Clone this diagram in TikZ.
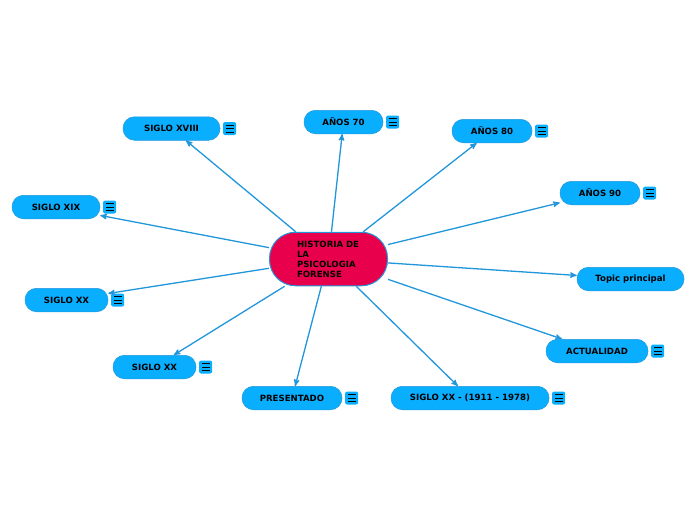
\documentclass[tikz,border=0pt]{standalone}
\usepackage{fontspec}
\setmainfont{DejaVu Sans}
\usetikzlibrary{arrows,positioning}
\definecolor{topicblue}{RGB}{10,174,255}
\definecolor{topicline}{RGB}{33,150,219}
\definecolor{rootred}{RGB}{232,0,76}

\begin{document}
\begin{tikzpicture}[x=1pt,y=-1pt,->,>=stealth',line width=1.3pt,draw=topicline]
  \tikzstyle{every node}=[font=\bfseries\fontsize{8.6}{10}\selectfont,text=black]
  \tikzstyle{topic}=[fill=topicblue,draw=topicline,line width=0.5pt,rounded corners=11.5pt,inner sep=0pt,minimum height=23.5pt]
  \tikzstyle{root}=[fill=rootred,draw=topicline,line width=1pt,rounded corners=26pt,inner sep=0pt,
                    minimum width=118pt,minimum height=53.5pt,align=left,text width=63pt]
  \tikzstyle{note}=[fill=topicblue,draw=none,rounded corners=2pt,minimum size=13pt,inner sep=0pt,right=2.2pt,
    path picture={\foreach \ty in {-3.3,0,3.3} \draw[-,black,line width=0.6pt]
      ([xshift=-4pt,yshift=\ty pt]path picture bounding box.center) -- ([xshift=4pt,yshift=\ty pt]path picture bounding box.center);}]

  \useasboundingbox (0,0) rectangle (696,520);

  \node[root]  (H)     at (328.5,259)  {HISTORIA DE\\LA\\PSICOLOGIA\\FORENSE};

  \node[topic,minimum width=97pt]  (XVIII) at (171.5,128.5) {SIGLO XVIII};
  \node[topic,minimum width=79pt]  (A70)   at (343.5,122)   {AÑOS 70};
  \node[topic,minimum width=80pt]  (A80)   at (492,131)     {AÑOS 80};
  \node[topic,minimum width=80pt]  (A90)   at (600,193)     {AÑOS 90};
  \node[topic,minimum width=107pt] (TP)    at (630.5,279)   {Topic principal};
  \node[topic,minimum width=102pt] (ACT)   at (597,351)     {ACTUALIDAD};
  \node[topic,minimum width=158pt] (XX3)   at (470,398)     {SIGLO XX - (1911 - 1978)};
  \node[topic,minimum width=100pt] (PRE)   at (292,398)     {PRESENTADO};
  \node[topic,minimum width=83pt]  (XX2)   at (154.5,367)   {SIGLO XX};
  \node[topic,minimum width=83pt]  (XX1)   at (66.5,300)    {SIGLO XX};
  \node[topic,minimum width=88pt]  (XIX)   at (56,207)      {SIGLO XIX};

  \foreach \n in {XVIII,A70,A80,A90,ACT,XX3,PRE,XX2,XX1,XIX}
    \node[note] (\n-note) at (\n.east) {};

  \path (H) edge (XVIII)
        (H) edge (A70)
        (H) edge (A80)
        (H) edge (A90)
        (H) edge (TP)
        (H) edge (ACT)
        (H) edge (XX3)
        (H) edge (PRE)
        (H) edge (XX2)
        (H) edge (XX1)
        (H) edge (XIX);
\end{tikzpicture}
\end{document}
